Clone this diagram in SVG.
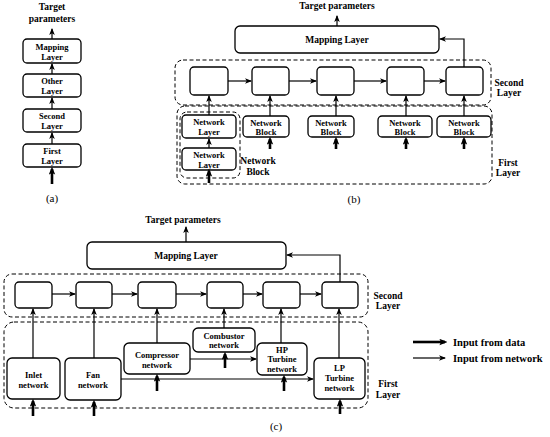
<svg xmlns="http://www.w3.org/2000/svg" width="550" height="437" viewBox="0 0 550 437">
<defs>
<style>
.box{fill:#fff;stroke:#000;stroke-width:1.3}
.dash{fill:none;stroke:#000;stroke-width:1;stroke-dasharray:4 2.5}
.ln{fill:none;stroke:#000;stroke-width:1.2;marker-end:url(#ah)}
.th{fill:none;stroke:#000;stroke-width:2.6;marker-end:url(#aht)}
text{font-family:"Liberation Serif","Times New Roman",serif;font-weight:bold;fill:#000;text-anchor:middle}
.s8{font-size:8.5px}
.s9{font-size:9.5px}
.s10{font-size:10.5px}
.cap{font-size:11px;font-weight:normal}
.lg{text-anchor:start;font-size:10.5px}
</style>
<marker id="ah" viewBox="0 0 10 8" refX="8.5" refY="4" markerWidth="7" markerHeight="5.6" orient="auto" markerUnits="userSpaceOnUse"><path d="M0,0 L10,4 L0,8 L2.5,4 z" fill="#000"/></marker>
<marker id="aht" viewBox="0 0 10 8" refX="7" refY="4" markerWidth="8" markerHeight="7" orient="auto" markerUnits="userSpaceOnUse"><path d="M0,0 L10,4 L0,8 L2,4 z" fill="#000"/></marker>
</defs>
<rect width="550" height="437" fill="#fff"/>

<!-- layer groupings (dashed) -->
<g id="layers">
<rect class="dash" x="175" y="60" width="316" height="45" rx="8"/>
<rect class="dash" x="177" y="106" width="315" height="78" rx="8"/>
<rect class="dash" x="180" y="112" width="60" height="66" rx="7"/>
<rect class="dash" x="4" y="274" width="364" height="43" rx="8"/>
<rect class="dash" x="4" y="322" width="364" height="86" rx="10"/>
</g>

<g id="connectors">
<!-- (a) -->
<line class="ln" x1="52" y1="39" x2="52" y2="29"/>
<line class="ln" x1="52" y1="74" x2="52" y2="64"/>
<line class="ln" x1="52" y1="109" x2="52" y2="98"/>
<line class="ln" x1="52" y1="144" x2="52" y2="133"/>
<line class="th" x1="52" y1="184" x2="52" y2="169"/>
<!-- (b) -->
<line class="ln" x1="337" y1="26" x2="337" y2="16"/>
<line class="ln" x1="228" y1="81" x2="251" y2="81"/>
<line class="ln" x1="289" y1="81" x2="316" y2="81"/>
<line class="ln" x1="354" y1="81" x2="386" y2="81"/>
<line class="ln" x1="424" y1="81" x2="445" y2="81"/>
<polyline class="ln" points="464,67 464,39 440,39"/>
<line class="ln" x1="209" y1="115" x2="209" y2="96"/>
<line class="ln" x1="209" y1="148" x2="209" y2="139"/>
<line class="th" x1="209" y1="183" x2="209" y2="171"/>
<line class="ln" x1="270" y1="116" x2="270" y2="96"/>
<line class="ln" x1="336" y1="116" x2="336" y2="96"/>
<line class="ln" x1="406" y1="116" x2="406" y2="96"/>
<line class="ln" x1="464" y1="116" x2="464" y2="96"/>
<line class="th" x1="270" y1="149" x2="270" y2="139"/>
<line class="th" x1="336" y1="149" x2="336" y2="139"/>
<line class="th" x1="406" y1="149" x2="406" y2="139"/>
<line class="th" x1="464" y1="149" x2="464" y2="139"/>
<!-- (c) -->
<line class="ln" x1="186" y1="242" x2="186" y2="227"/>
<line class="ln" x1="52" y1="294" x2="75" y2="294"/>
<line class="ln" x1="112" y1="294" x2="137" y2="294"/>
<line class="ln" x1="176" y1="294" x2="206" y2="294"/>
<line class="ln" x1="243" y1="294" x2="262" y2="294"/>
<line class="ln" x1="300" y1="294" x2="321" y2="294"/>
<polyline class="ln" points="340,282 340,255 287,255"/>
<line class="ln" x1="33" y1="358" x2="33" y2="309"/>
<line class="ln" x1="94" y1="358" x2="94" y2="309"/>
<line class="ln" x1="157" y1="343" x2="157" y2="309"/>
<line class="ln" x1="224" y1="328" x2="224" y2="309"/>
<line class="ln" x1="281" y1="343" x2="281" y2="309"/>
<line class="ln" x1="339" y1="358" x2="339" y2="309"/>
<line class="ln" x1="190" y1="359" x2="256" y2="359"/>
<line class="ln" x1="121" y1="379" x2="313" y2="379"/>
<line class="th" x1="33" y1="416" x2="33" y2="401"/>
<line class="th" x1="94" y1="416" x2="94" y2="402"/>
<line class="th" x1="157" y1="391" x2="157" y2="376"/>
<line class="th" x1="225" y1="368" x2="225" y2="354"/>
<line class="th" x1="284" y1="391" x2="284" y2="377"/>
<line class="th" x1="340" y1="414" x2="340" y2="401"/>
<!-- legend -->
<line class="th" x1="413" y1="342" x2="445" y2="342"/>
<line class="ln" x1="413" y1="358" x2="445" y2="358"/>
</g>

<!-- (a) nodes -->
<g id="a-target"><text class="s9" x="52" y="10">Target</text><text class="s9" x="52" y="22">parameters</text></g>
<g id="a-mapping"><rect class="box" x="23" y="39" width="58" height="24" rx="4"/><text class="s8" x="52" y="49.5">Mapping</text><text class="s8" x="52" y="59.5">Layer</text></g>
<g id="a-other"><rect class="box" x="23" y="74" width="58" height="23" rx="4"/><text class="s8" x="52" y="84">Other</text><text class="s8" x="52" y="94">Layer</text></g>
<g id="a-second"><rect class="box" x="23" y="109" width="58" height="23" rx="4"/><text class="s8" x="52" y="119">Second</text><text class="s8" x="52" y="129">Layer</text></g>
<g id="a-first"><rect class="box" x="23" y="144" width="58" height="23" rx="4"/><text class="s8" x="52" y="154">First</text><text class="s8" x="52" y="164">Layer</text></g>
<text class="cap" x="52" y="202">(a)</text>

<!-- (b) nodes -->
<g id="b-target"><text class="s9" x="337" y="9">Target parameters</text></g>
<g id="b-mapping"><rect class="box" x="235" y="26" width="204" height="27" rx="5"/><text class="s9" x="337" y="43">Mapping Layer</text></g>
<g id="b-s1"><rect class="box" x="190" y="67" width="38" height="28" rx="4"/></g>
<g id="b-s2"><rect class="box" x="252" y="67" width="37" height="28" rx="4"/></g>
<g id="b-s3"><rect class="box" x="317" y="67" width="37" height="28" rx="4"/></g>
<g id="b-s4"><rect class="box" x="387" y="67" width="37" height="28" rx="4"/></g>
<g id="b-s5"><rect class="box" x="446" y="67" width="37" height="28" rx="4"/></g>
<g id="b-nl1"><rect class="box" x="182" y="115" width="54" height="23" rx="4"/><text class="s8" x="209" y="125">Network</text><text class="s8" x="209" y="135">Layer</text></g>
<g id="b-nl2"><rect class="box" x="182" y="148" width="54" height="22" rx="4"/><text class="s8" x="209" y="158">Network</text><text class="s8" x="209" y="167.5">Layer</text></g>
<g id="b-nb-label"><text class="s9" x="258" y="164">Network</text><text class="s9" x="258" y="175">Block</text></g>
<g id="b-nb1"><rect class="box" x="243" y="116" width="46" height="21" rx="4"/><text class="s8" x="266" y="125.5">Network</text><text class="s8" x="266" y="134.5">Block</text></g>
<g id="b-nb2"><rect class="box" x="308" y="116" width="46" height="21" rx="4"/><text class="s8" x="331" y="125.5">Network</text><text class="s8" x="331" y="134.5">Block</text></g>
<g id="b-nb3"><rect class="box" x="378" y="116" width="54" height="21" rx="4"/><text class="s8" x="405" y="125.5">Network</text><text class="s8" x="405" y="134.5">Block</text></g>
<g id="b-nb4"><rect class="box" x="437" y="116" width="54" height="21" rx="4"/><text class="s8" x="464" y="125.5">Network</text><text class="s8" x="464" y="134.5">Block</text></g>
<g id="b-second-label"><text class="s9" x="509" y="86">Second</text><text class="s9" x="509" y="96">Layer</text></g>
<g id="b-first-label"><text class="s9" x="508" y="166">First</text><text class="s9" x="508" y="176">Layer</text></g>
<text class="cap" x="354" y="203">(b)</text>

<!-- (c) nodes -->
<g id="c-target"><text class="s9" x="183" y="222.5">Target parameters</text></g>
<g id="c-mapping"><rect class="box" x="87" y="242" width="199" height="27" rx="5"/><text class="s9" x="186" y="259">Mapping Layer</text></g>
<g id="c-s1"><rect class="box" x="15" y="282" width="37" height="26" rx="4"/></g>
<g id="c-s2"><rect class="box" x="76" y="282" width="36" height="26" rx="4"/></g>
<g id="c-s3"><rect class="box" x="138" y="282" width="38" height="26" rx="4"/></g>
<g id="c-s4"><rect class="box" x="207" y="282" width="36" height="26" rx="4"/></g>
<g id="c-s5"><rect class="box" x="263" y="282" width="37" height="26" rx="4"/></g>
<g id="c-s6"><rect class="box" x="322" y="282" width="36" height="26" rx="4"/></g>
<g id="c-inlet"><rect class="box" x="7" y="358" width="53" height="41" rx="5"/><text class="s8" x="33.5" y="378">Inlet</text><text class="s8" x="33.5" y="387.5">network</text></g>
<g id="c-fan"><rect class="box" x="65" y="358" width="56" height="42" rx="5"/><text class="s8" x="93" y="378">Fan</text><text class="s8" x="93" y="387.5">network</text></g>
<g id="c-compressor"><rect class="box" x="124" y="343" width="66" height="31" rx="5"/><text class="s8" x="157" y="358">Compressor</text><text class="s8" x="157" y="367.5">network</text></g>
<g id="c-combustor"><rect class="box" x="193" y="328" width="62" height="24" rx="5"/><text class="s8" x="224" y="338.5">Combustor</text><text class="s8" x="224" y="347.5">network</text></g>
<g id="c-hp"><rect class="box" x="257" y="343" width="50" height="32" rx="5"/><text class="s8" x="282" y="352.5">HP</text><text class="s8" x="282" y="362">Turbine</text><text class="s8" x="282" y="371.5">network</text></g>
<g id="c-lp"><rect class="box" x="314" y="358" width="51" height="41" rx="5"/><text class="s8" x="339.5" y="371">LP</text><text class="s8" x="339.5" y="381">Turbine</text><text class="s8" x="339.5" y="390.5">network</text></g>
<g id="c-second-label"><text class="s9" x="388" y="298.5">Second</text><text class="s9" x="388" y="309">Layer</text></g>
<g id="c-first-label"><text class="s9" x="388" y="387">First</text><text class="s9" x="388" y="398">Layer</text></g>
<text class="cap" x="276" y="430">(c)</text>

<g id="legend"><text class="lg" x="453" y="345.5">Input from data</text><text class="lg" x="453" y="361.5">Input from network</text></g>
</svg>
